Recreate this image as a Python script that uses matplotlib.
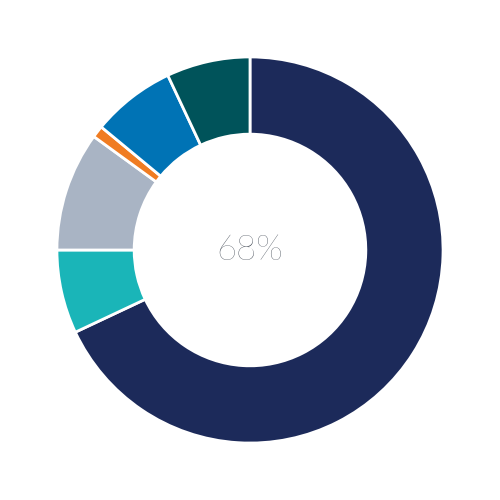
import matplotlib.pyplot as plt

labels = ["A", "B", "C", "D", "E", "F"]
values = [68, 7, 10, 1, 7, 7]
colors = ["#1c2a5a", "#1ab5b8", "#a9b4c4", "#f07c22", "#0073b5", "#00535a"]
center_text = "68%"

fig = plt.figure(figsize=(5, 5), dpi=100)
ax = fig.add_axes([0, 0, 1, 1])
ax.pie(values, colors=colors, startangle=90, counterclock=False,
       radius=1.0, wedgeprops=dict(width=0.4, edgecolor="white", linewidth=2))
ax.text(0, 0, center_text, ha="center", va="center", fontsize=25,
        color="#3d4550", family=["Lato", "DejaVu Sans"], fontweight="light")
ax.set_xlim(-1.295, 1.295)
ax.set_ylim(-1.295, 1.295)
ax.set_aspect("equal")
ax.axis("off")
fig.savefig("out.png", dpi=100, facecolor="white")
